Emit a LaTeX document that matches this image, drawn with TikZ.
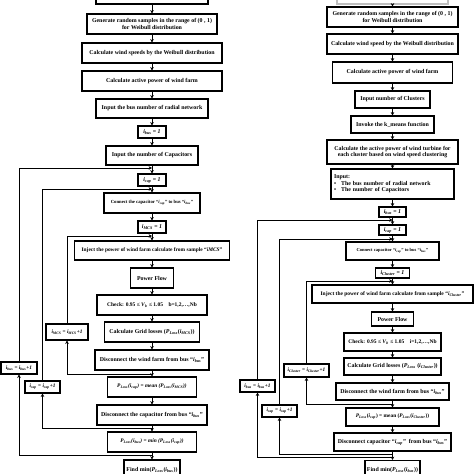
\documentclass[tikz,border=0pt]{standalone}
\usepackage{fontspec}
\setmainfont{Liberation Serif}
\usetikzlibrary{arrows.meta}
\newcommand\myvi[1]{\textit{i}\textsubscript{\textit{#1}}}
\newcommand\myPL{\textit{P}\textsubscript{\textit{Loss}}}
\newcommand\fsz[1]{\fontsize{#1}{#1}\selectfont}
\tikzset{
 box/.style={draw=black, line width=1.1pt, fill=white, inner sep=1pt, align=center,
   font=\bfseries\fontsize{5.9}{6.6}\selectfont},
 arr/.style={line width=0.8pt, -{Stealth[length=3.4pt,width=3.6pt]}},
 ln/.style={line width=0.8pt},
}
\begin{document}
\begin{tikzpicture}[x=1pt,y=-1pt]
\useasboundingbox (0,0) rectangle (474,474);
\fill[white] (0,0) rectangle (474,474);
% ---------------- left chart ----------------
\node[box,minimum width=112pt,minimum height=18pt] (L0) at (152,-5) {};
\node[box,minimum width=130pt,minimum height=20pt] (L1) at (152,24) {Generate random samples in the range of (0 , 1)\\for Weibull distribution};
\node[box,minimum width=140pt,minimum height=20pt] (L2) at (152,53) {Calculate wind speeds by the Weibull distribution};
\node[box,minimum width=140pt,minimum height=20pt] (L3) at (152,81) {Calculate active power of wind farm};
\node[box,minimum width=112pt,minimum height=19pt] (L4) at (152,108.5) {Input the bus number of radial network};
\node[box,minimum width=28pt,minimum height=12pt] (L5) at (152,132) {\myvi{bus} = \textit{1}};
\node[box,minimum width=92pt,minimum height=19pt] (L6) at (152,155.5) {Input the number of Capacitors};
\node[box,minimum width=28pt,minimum height=12pt] (L7) at (152,180) {\myvi{cap} = \textit{1}};
\node[box,minimum width=96pt,minimum height=20pt,font=\bfseries\fsz{4.7}] (L8) at (152,203) {Connect the capacitor “\myvi{cap}” to bus “\myvi{bus}”};
\node[box,minimum width=28pt,minimum height=12pt] (L9) at (152,227) {\myvi{MCS} = \textit{1}};
\node[box,minimum width=155pt,minimum height=19pt,font=\bfseries\fsz{5.4}] (L10) at (152,250.5) {Inject the power of wind farm calculate from sample “\textit{iMCS}”};
\node[box,minimum width=43pt,minimum height=20pt] (L11) at (152,278) {Power Flow};
\node[box,minimum width=110pt,minimum height=20pt,font=\bfseries\fsz{5.5}] (L12) at (152,305) {Check: 0.95 ≤ \textit{V}\textsubscript{\textit{b}} ≤ 1.05\quad b=1,2,…,Nb};
\node[box,minimum width=95pt,minimum height=20pt] (L13) at (152,332) {Calculate Grid losses (\myPL(\myvi{MCS}))};
\node[box,minimum width=114pt,minimum height=20pt] (L14) at (152,360) {Disconnect the wind farm from bus “\myvi{bus}”};
\node[box,minimum width=89pt,minimum height=20pt,font=\bfseries\fsz{5.4}] (L15) at (152,387) {\itshape \myPL(\myvi{cap}) = mean (\myPL(\myvi{MCS}))};
\node[box,minimum width=110pt,minimum height=20pt] (L16) at (152,415) {Disconnect the capacitor from bus “\myvi{bus}”};
\node[box,minimum width=89pt,minimum height=20pt,font=\bfseries\fsz{5.4}] (L17) at (152,442) {\itshape \myPL(\myvi{bus}) = min (\myPL(\myvi{cap}))};
\node[box,minimum width=56pt,minimum height=20pt] (L18) at (152,470) {Find min(\myPL(\myvi{bus}))};
\node[box,minimum width=42pt,minimum height=16pt,font=\bfseries\fsz{5.3}] (LB1) at (67,332) {\myvi{MCS} = \myvi{MCS}+\textit{1}};
\node[box,minimum width=35pt,minimum height=12pt,font=\bfseries\fsz{5.3}] (LB2) at (42.5,387) {\myvi{cap} = \myvi{cap}+\textit{1}};
\node[box,minimum width=36pt,minimum height=12pt,font=\bfseries\fsz{5.3}] (LB3) at (19,368) {\myvi{bus} = \myvi{bus}+\textit{1}};
\coordinate (fL1) at (152,168);
\coordinate (fL2) at (152,189);
\coordinate (fL3) at (152,236);
\coordinate (jL3) at (152,374);
\coordinate (jL2) at (152,428);
\coordinate (jL1) at (152,455);
\foreach \a/\b in {L0/L1,L1/L2,L2/L3,L3/L4,L4/L5,L5/L6,L6/L7,L7/L8,L8/L9,L9/L10,L10/L11,L11/L12,L12/L13,L13/L14,L14/L15,L15/L16,L16/L17,L17/L18}
  \draw[arr] (\a) -- (\b);
\draw[arr] (jL3) -| (LB1.south);
\draw[arr] (LB1.north) |- (fL3);
\draw[arr] (jL2) -| (LB2.south);
\draw[arr] (LB2.north) |- (fL2);
\draw[arr] (jL1) -| (LB3.south);
\draw[arr] (LB3.north) |- (fL1);
% ---------------- right chart ----------------
\node[box,draw=gray!50,minimum width=111pt,minimum height=18pt] (R0) at (392.5,-5) {};
\node[box,minimum width=131pt,minimum height=20pt] (R1) at (392.5,17) {Generate random samples in the range of (0 , 1)\\for Weibull distribution};
\node[box,minimum width=131pt,minimum height=20pt] (R2) at (392.5,44) {Calculate wind speed by the Weibull distribution};
\node[box,minimum width=120pt,minimum height=21pt] (R3) at (392.5,72.5) {Calculate active power of wind farm};
\node[box,minimum width=75pt,minimum height=17pt] (R4) at (392.5,99.5) {Input number of Clusters};
\node[box,minimum width=83pt,minimum height=17pt] (R5) at (392.5,124.5) {Invoke the k\_means function};
\node[box,minimum width=131pt,minimum height=24pt] (R6) at (392.5,152) {Calculate the active power of wind turbine for\\each cluster based on wind speed clustering};
\node[box,align=left,text width=117pt,inner sep=3pt,minimum height=30pt] (R7) at (392.5,184) {Input:\\\textbullet\hspace{5pt}The bus number of radial network\\\textbullet\hspace{5pt}The number of Capacitors};
\node[box,minimum width=27pt,minimum height=10pt] (R8) at (392.5,212) {\myvi{bus} = \textit{1}};
\node[box,minimum width=27pt,minimum height=10pt] (R9) at (392.5,230) {\myvi{cap} = \textit{1}};
\node[box,minimum width=93pt,minimum height=18pt,font=\bfseries\fsz{4.5}] (R10) at (392.5,251) {Connect capacitor “\myvi{cap}” to bus “\myvi{bus}”};
\node[box,minimum width=34pt,minimum height=10pt] (R11) at (392.5,273) {\myvi{Cluster} = \textit{1}};
\node[box,minimum width=161pt,minimum height=18pt,font=\bfseries\fsz{5.5}] (R12) at (392.5,294) {Inject the power of wind farm calculate from sample “\myvi{Cluster}”};
\node[box,minimum width=42pt,minimum height=14pt] (R13) at (392.5,319) {Power Flow};
\node[box,minimum width=97pt,minimum height=18pt,font=\bfseries\fsz{5.5}] (R14) at (392.5,342) {Check: 0.95 ≤ \textit{V}\textsubscript{\textit{b}} ≤ 1.05\quad i=1,2,…,Nb};
\node[box,minimum width=97pt,minimum height=17pt] (R15) at (392.5,366.5) {Calculate Grid losses (\myPL\ (\myvi{Cluster}))};
\node[box,minimum width=113pt,minimum height=17pt] (R16) at (392.5,391.5) {Disconnect the wind farm from bus “\myvi{bus}”};
\node[box,minimum width=93pt,minimum height=18pt,font=\bfseries\fsz{5.4}] (R17) at (392.5,417) {\myPL(\myvi{cap}) = mean (\myPL(\myvi{Cluster}))};
\node[box,minimum width=117pt,minimum height=18pt] (R18) at (392.5,442) {Disconnect capacitor “\myvi{cap}”\ \ from bus “\myvi{bus}”};
\node[box,minimum width=55pt,minimum height=20pt] (R19) at (392.5,470.5) {Find min(\myPL(\myvi{bus}))};
\node[box,minimum width=45pt,minimum height=13pt,font=\bfseries\fsz{5.3}] (RB1) at (306.5,370.5) {\myvi{Cluster} = \myvi{Cluster}+\textit{1}};
\node[box,minimum width=35pt,minimum height=12pt,font=\bfseries\fsz{5.3}] (RB2) at (279.5,411) {\myvi{cap} = \myvi{cap}+\textit{1}};
\node[box,minimum width=35pt,minimum height=12pt,font=\bfseries\fsz{5.3}] (RB3) at (257.5,386) {\myvi{bus} = \myvi{bus}+\textit{1}};
\coordinate (fR1) at (392.5,220);
\coordinate (fR2) at (392.5,239);
\coordinate (fR3) at (392.5,281);
\coordinate (jR3) at (392.5,404);
\coordinate (jR2) at (392.5,454);
\coordinate (jR1) at (392.5,457.5);
\foreach \a/\b in {R0/R1,R1/R2,R2/R3,R3/R4,R4/R5,R5/R6,R6/R7,R7/R8,R8/R9,R9/R10,R10/R11,R11/R12,R12/R13,R13/R14,R14/R15,R15/R16,R16/R17,R17/R18,R18/R19}
  \draw[arr] (\a) -- (\b);
\draw[arr] (jR3) -| (RB1.south);
\draw[arr] (RB1.north) |- (fR3);
\draw[arr] (jR2) -| (RB2.south);
\draw[arr] (RB2.north) |- (fR2);
\draw[arr] (jR1) -| (RB3.south);
\draw[arr] (RB3.north) |- (fR1);
\end{tikzpicture}
\end{document}
